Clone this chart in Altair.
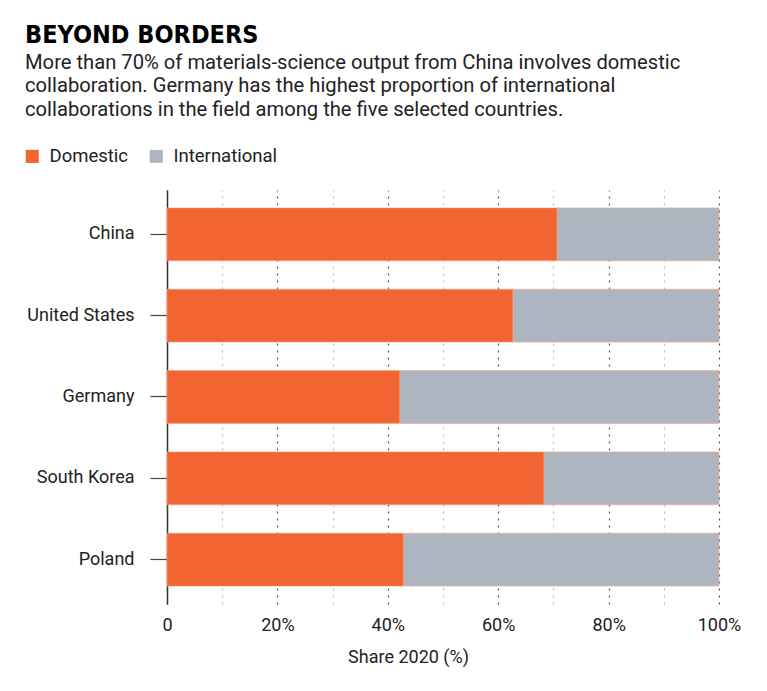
import altair as alt
import pandas as pd

countries = ["China", "United States", "Germany", "South Korea", "Poland"]
domestic = [70.7, 62.7, 42.2, 68.3, 42.9]
international = [29.3, 37.3, 57.8, 31.7, 57.1]
series = ["Domestic", "International"]
colors = ["#F26532", "#ADB5C1"]

rows = []
for c, d, i in zip(countries, domestic, international):
    rows.append({"country": c, "type": "Domestic", "share": d, "ord": 0})
    rows.append({"country": c, "type": "International", "share": i, "ord": 1})
df = pd.DataFrame(rows)

FONT = "Roboto"

chart = alt.Chart(df).mark_bar(stroke="#F5A584", strokeWidth=0.6).encode(
    y=alt.Y("country:N", sort=countries, title=None,
            scale=alt.Scale(paddingInner=0.35, paddingOuter=0.22),
            axis=alt.Axis(domainColor="#333", domainWidth=1.5, tickColor="#444",
                          tickSize=17, tickWidth=1.2, labelPadding=16,
                          labelFontSize=18, labelColor="#222", labelFont=FONT,
                          grid=False)),
    x=alt.X("share:Q", stack="zero", title="Share 2020 (%)",
            scale=alt.Scale(domain=[0, 100], nice=False),
            axis=alt.Axis(values=list(range(0, 101, 10)), domain=False, ticks=False,
                          labelExpr="datum.value % 20 === 0 ? (datum.value === 0 ? '0' : datum.value + '%') : ''",
                          labelFlush=False,
                          labelFontSize=18, labelColor="#222", labelFont=FONT, labelPadding=12,
                          titleFontSize=18, titleFont=FONT, titleColor="#222", titleFontWeight="normal",
                          titlePadding=14, titleX=241, titleAlign="center",
                          grid=True, gridDash=[2, 5], gridWidth=1.2,
                          gridColor={"condition": {"test": "datum.value % 20 === 0", "value": "#555"}, "value": "#bbb"})),
    color=alt.Color("type:N", scale=alt.Scale(domain=series, range=colors),
                    legend=alt.Legend(title=None, orient="none", legendX=-144, legendY=-43,
                                      direction="horizontal", symbolType="square", symbolSize=170,
                                      symbolStrokeWidth=0, labelFontSize=18.5, labelFont=FONT,
                                      labelColor="#222", labelOffset=8, columnPadding=18)),
    order=alt.Order("ord:Q"),
).properties(
    width=552, height=414,
    autosize=alt.AutoSizeParams(type="none"),
    padding={"left": 159, "top": 182, "right": 40, "bottom": 79},
    title=alt.TitleParams(
        text="BEYOND BORDERS",
        subtitle=["More than 70% of materials-science output from China involves domestic",
                  "collaboration. Germany has the highest proportion of international",
                  "collaborations in the field among the five selected countries."],
        anchor="start", frame="group", dx=-142, offset=27,
        font="Liberation Sans Narrow, DejaVu Sans Condensed, Roboto, sans-serif",
        fontSize=25, fontWeight="bold", color="#000",
        subtitleFont=FONT, subtitleFontSize=20.2, subtitleColor="#222",
        subtitleLineHeight=23.5, subtitlePadding=5,
    ),
).configure_view(stroke=None)

chart.save("out.html", embed_options={"renderer": "svg", "actions": False})
